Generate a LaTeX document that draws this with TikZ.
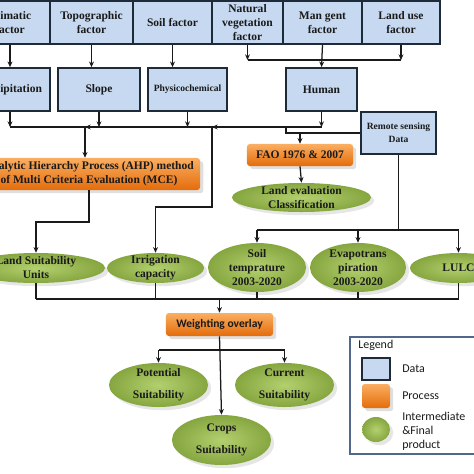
\documentclass[tikz,border=0pt]{standalone}
\usepackage{fontspec}
\setmainfont{Liberation Serif}
\newfontfamily\calibri{Carlito}
\usetikzlibrary{shapes.geometric,arrows.meta,shadows}

\definecolor{databg}{HTML}{C6D9F1}
\definecolor{databd}{HTML}{1E2A38}
\definecolor{proctop}{HTML}{FAAE62}
\definecolor{procbot}{HTML}{E46C0A}
\definecolor{prodin}{HTML}{B3D06E}
\definecolor{prodout}{HTML}{86A640}
\definecolor{ink}{HTML}{1A1A1A}
\definecolor{legbd}{HTML}{50698A}

\tikzset{
  data/.style={rectangle, draw=databd, line width=1.2pt, fill=databg, align=center,
    inner sep=1pt, minimum height=1.075cm, text=ink,
    font=\fontsize{8.2}{10}\selectfont\bfseries},
  proc/.style={rectangle, rounded corners=2pt, top color=proctop, bottom color=procbot,
    align=center, inner sep=2pt, text=ink, drop shadow={opacity=0.25},
    font=\fontsize{8.2}{10}\selectfont\bfseries},
  prod/.style={ellipse, inner color=prodin, outer color=prodout, inner sep=0pt,
    drop shadow={opacity=0.2}},
  ptext/.style={align=center, inner sep=0pt, text=ink,
    font=\fontsize{8.2}{10}\selectfont\bfseries},
  ltext/.style={anchor=west, align=left, inner sep=0pt, text=ink,
    font=\calibri\fontsize{8.5}{10}\selectfont},
  link/.style={line width=0.9pt, draw=ink},
  arr/.style={link, -{Stealth[length=4pt,width=3.5pt]}},
}

\begin{document}
\begin{tikzpicture}[x=0.025cm, y=-0.025cm]
    \useasboundingbox (0,0) rectangle (474,474);
    \clip (0,0) rectangle (474,474);
    % factors
    \node[data, minimum width=2cm] (clim) at (10,22.5) {Climatic\\factor};
    \node[data, minimum width=2.075cm] (topo) at (91.5,22.5) {Topographic\\factor};
    \node[data, minimum width=1.975cm] (soil) at (172.5,22.5) {Soil factor};
    \node[data, minimum width=1.775cm] (veg) at (247.5,22.5) {Natural\\vegetation\\factor};
    \node[data, minimum width=1.975cm] (man) at (322.5,22.5) {Man gent\\factor};
    \node[data, minimum width=1.95cm] (luse) at (401,22.5) {Land use\\factor};
    % data layers
    \node[data, minimum width=2cm] (prec) at (10,89.5) {Precipitation};
    \node[data, minimum width=2.05cm] (slope) at (99,89.5) {Slope};
    \node[data, minimum width=1.975cm, font=\fontsize{6.8}{8}\selectfont\bfseries] (phys) at (187.5,89.5) {Physicochemical};
    \node[data, minimum width=1.775cm] (human) at (321.5,89.5) {Human};
    \node[data, minimum width=1.875cm, minimum height=1.05cm, font=\fontsize{6.8}{9.4}\selectfont\bfseries] (rs) at (398.5,133) {Remote sensing\\Data};
    % processes
    \node[proc, minimum width=2.65cm, minimum height=0.55cm] (fao) at (300,155) {FAO 1976 \& 2007};
    \node[proc, minimum width=5.55cm, minimum height=0.8cm] (ahp) at (89,174) {Analytic Hierarchy Process (AHP) method\\of Multi Criteria Evaluation (MCE)};
    \node[proc, minimum width=2.675cm, minimum height=0.575cm, font=\calibri\fontsize{8.2}{10}\selectfont\bfseries] (wo) at (219.5,324.5) {Weighting overlay};
    % products
    \node[prod, minimum width=3.475cm, minimum height=0.725cm] (landev) at (301.5,197.5) {};
    \node[ptext] (landev-t) at (landev) {Land evaluation\\Classification};
    \node[prod, minimum width=3.45cm, minimum height=0.75cm] (lsu) at (36,268) {};
    \node[ptext] (lsu-t) at (lsu) {Land Suitability\\Units};
    \node[prod, minimum width=2.425cm, minimum height=0.75cm] (irrig) at (155.5,268) {};
    \node[ptext] (irrig-t) at (irrig) {Irrigation\\capacity};
    \node[prod, minimum width=2.45cm, minimum height=1.225cm] (soilt) at (257,267.5) {};
    \node[ptext] (soilt-t) at (soilt) {Soil\\temprature\\2003-2020};
    \node[prod, minimum width=2.4cm, minimum height=1.225cm] (evap) at (358,267.5) {};
    \node[ptext] (evap-t) at (evap) {Evapotrans\\piration\\2003-2020};
    \node[prod, minimum width=2.425cm, minimum height=0.75cm] (lulc) at (458.5,268) {};
    \node[ptext] (lulc-t) at (lulc) {LULC};
    \node[prod, minimum width=2.475cm, minimum height=1.1cm] (pot) at (158.5,385) {};
    \node[ptext] (pot-t) at (pot) {Potential\\[5.5pt]Suitability};
    \node[prod, minimum width=2.475cm, minimum height=1.1cm] (cur) at (284.5,385) {};
    \node[ptext] (cur-t) at (cur) {Current\\[5.5pt]Suitability};
    \node[prod, minimum width=2.475cm, minimum height=1.25cm] (crops) at (221.5,440) {};
    \node[ptext] (crops-t) at (crops) {Crops\\[5.5pt]Suitability};
    % junction lines
    \coordinate (bar1) at (0,60);
    \coordinate (bar2) at (0,127);
    \coordinate (j1) at (85,127);
    \coordinate (j2) at (212,127);
    \coordinate (j3) at (286,127);
    \coordinate (k1) at (0,207);
    \coordinate (k2) at (0,222);
    \coordinate (k3) at (0,230);
    \coordinate (k4) at (0,299);
    \coordinate (k5) at (0,350);
    % factors to layers
    \draw[arr] (clim.south) -- (prec.north);
    \draw[arr] (topo.south) -- (topo.south |- slope.north);
    \draw[arr] (soil.south) -- (soil.south |- phys.north);
    \draw[arr] (veg.south) -- (veg.south |- bar1);
    \draw[arr] (luse.south) -- (luse.south |- bar1);
    \draw[link] (veg.south |- bar1) -- (luse.south |- bar1);
    \draw[arr] (man.south) -- (human.north);
    % layers to processes
    \draw[arr] (prec.south) -- (prec.south |- bar2);
    \draw[arr] (slope.south) -- (slope.south |- bar2);
    \draw[arr] (phys.south) -- (phys.south |- bar2);
    \draw[arr] (human.south) -- (human.south |- bar2);
    \draw[link] (prec.south |- bar2) -- (human.south |- bar2);
    \draw[arr] (human.south |- bar2) -- (j2);
    \draw[arr] (j2) -- (j1);
    \draw[arr] (j1) -- (j1 |- ahp.north);
    \draw[link] (rs.west) -| (j3);
    \draw[arr] (fao.north |- rs.west) -- (fao.north);
    \draw[arr] (fao.south) -- (landev.north);
    \draw[arr] (j2) -- (j2 |- k1) -| (irrig.north);
    \draw[arr] (ahp.south) -- (ahp.south |- k2) -| (lsu.north);
    % remote sensing products
    \draw[link] (rs.south) -- (rs.south |- k3);
    \draw[link] (soilt.north |- k3) -- (lulc.north |- k3);
    \draw[arr] (soilt.north |- k3) -- (soilt.north);
    \draw[arr] (evap.north |- k3) -- (evap.north);
    \draw[arr] (lulc.north |- k3) -- (lulc.north);
    % overlay
    \draw[link] (lsu.south) -- (lsu.south |- k4);
    \draw[link] (irrig.south) -- (irrig.south |- k4);
    \draw[link] (soilt.south) -- (soilt.south |- k4);
    \draw[link] (evap.south) -- (evap.south |- k4);
    \draw[link] (lulc.south) -- (lulc.south |- k4);
    \draw[link] (lsu.south |- k4) -- (lulc.south |- k4);
    \draw[arr] (wo.north |- k4) -- (wo.north);
    \draw[arr] (wo.south) -- (crops.north);
    \draw[link] (pot.north |- k5) -- (cur.north |- k5);
    \draw[arr] (pot.north |- k5) -- (pot.north);
    \draw[arr] (cur.north |- k5) -- (cur.north);
    % legend
    \draw[legbd, line width=0.8pt] (350,337) rectangle (480,454);
    \node[ltext] (leg-t) at (358,345) {Legend};
    \node[data, minimum width=0.7cm, minimum height=0.55cm] (kdata) at (376,369) {};
    \node[ltext] (kdata-t) at (402,369) {Data};
    \node[proc, minimum width=0.7cm, minimum height=0.6cm] (kproc) at (376,396) {};
    \node[ltext] (kproc-t) at (402,396) {Process};
    \node[prod, minimum width=0.7cm, minimum height=0.625cm] (kprod) at (376,429.5) {};
    \node[ltext] (kprod-t) at (402,431) {Intermediate\\\&Final\\product};
\end{tikzpicture}
\end{document}
